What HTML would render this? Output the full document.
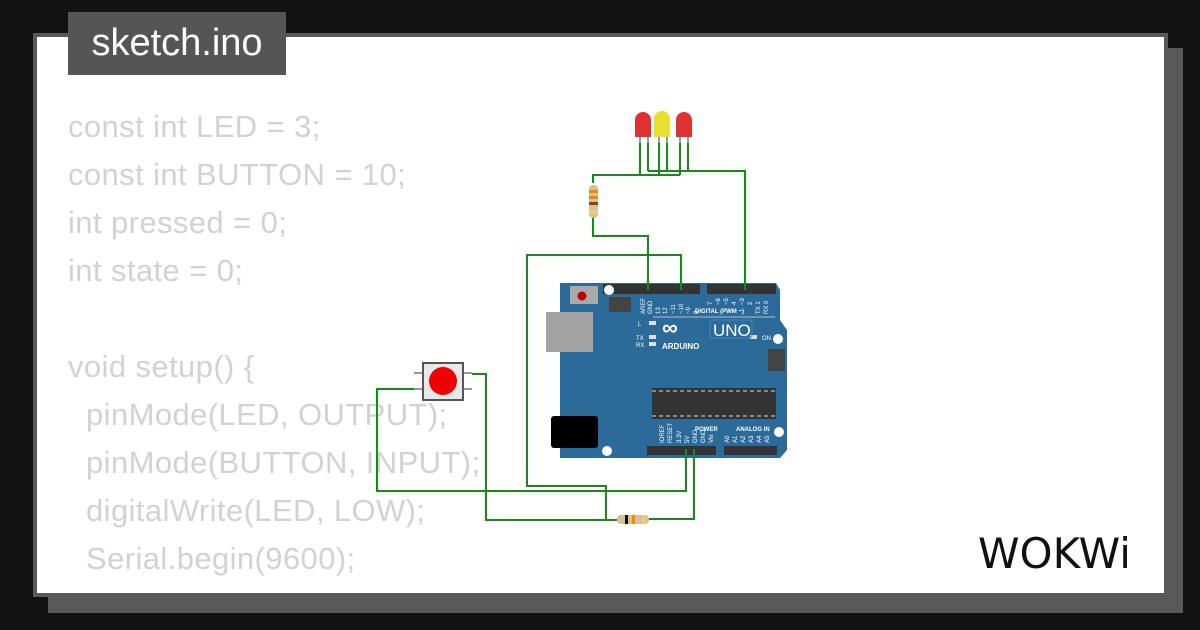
<!DOCTYPE html>
<html><head><meta charset="utf-8"><style>
html,body{margin:0;padding:0;background:#121212;width:1200px;height:630px;overflow:hidden;position:relative;font-family:"Liberation Sans",sans-serif}
.sh{position:absolute;left:48px;top:48px;width:1135px;height:565px;background:#595959}
.card{position:absolute;left:33px;top:33px;width:1127px;height:556px;background:#fff;border:4px solid #595959;overflow:hidden}
.code{position:absolute;left:31px;top:66px;color:#d2d2d2;font-size:31px;letter-spacing:0.4px;line-height:48px;white-space:pre;font-family:"Liberation Sans",sans-serif}
.lbl{position:absolute;left:68px;top:12px;width:218px;height:63px;background:#555;color:#fff;font-size:38px;line-height:63px;text-align:center}
svg{position:absolute;left:0;top:0}
</style></head><body>
<div class="sh"></div>
<div class="card"><div class="code">const int LED = 3;
const int BUTTON = 10;
int pressed = 0;
int state = 0;

void setup() {
  pinMode(LED, OUTPUT);
  pinMode(BUTTON, INPUT);
  digitalWrite(LED, LOW);
  Serial.begin(9600);
}</div></div>
<div class="lbl">sketch.ino</div>
<svg width="1200" height="630" viewBox="0 0 1200 630">
<path d="M560,283 H776 L780,290 V320 L787,330 V450 L780,458 H560 Z" fill="#2b6a99"/>
<rect x="546" y="312" width="47" height="40" fill="#a3a3a3"/>
<rect x="551" y="416" width="47" height="32" rx="3" fill="#000"/>
<rect x="570" y="286" width="28" height="18" fill="#a9a9a9"/>
<circle cx="582" cy="296" r="4.5" fill="#b00"/>
<g fill="#444"><rect x="609" y="297" width="22" height="15"/><rect x="768" y="349" width="17" height="22"/></g>
<rect x="603" y="284" width="97" height="10" fill="#333"/>
<rect x="707" y="284" width="69" height="10" fill="#333"/>
<rect x="647" y="446" width="69" height="9" fill="#333"/>
<rect x="724" y="446" width="53" height="9" fill="#333"/>
<rect x="652" y="388" width="124" height="31" fill="#333"/>
<line x1="652" y1="391" x2="776" y2="391" stroke="#ddd" stroke-dasharray="4,3"/>
<line x1="652" y1="416" x2="776" y2="416" stroke="#ddd" stroke-dasharray="4,3"/>
<g fill="#fff"><circle cx="609" cy="290" r="5"/><circle cx="778" cy="339" r="5"/><circle cx="779" cy="432" r="5"/><circle cx="607" cy="451" r="5"/></g>
<line x1="653" y1="317" x2="775" y2="317" stroke="#ddd" stroke-width="0.8"/>
<g font-size="6" fill="#fff" font-family="Liberation Sans">
<text x="695" y="313" font-weight="bold">DIGITAL (PWM ~)</text>
<text x="638" y="326">L</text><text x="636" y="340">TX</text><text x="636" y="347">RX</text>
<text x="762" y="340">ON</text>
<text x="695" y="431" font-weight="bold">POWER</text><text x="736" y="431" font-weight="bold">ANALOG IN</text>
</g>
<g fill="#ddd"><rect x="649" y="321" width="7" height="4"/><rect x="649" y="335" width="7" height="4"/><rect x="649" y="342" width="7" height="4"/><rect x="750" y="335" width="7" height="4"/></g>
<text x="662" y="335" font-size="22" fill="#fff" font-weight="bold">∞</text>
<rect x="710" y="320" width="42" height="18" rx="3" fill="none" stroke="#4d86b5"/>
<text x="713" y="336" font-size="17" fill="#fff">UNO</text>
<text x="662" y="349" font-size="8" fill="#fff" font-weight="bold">ARDUINO</text>
<g font-size="6" fill="#fff">
<text transform="translate(645,314) rotate(-90)">AREF</text><text transform="translate(652,314) rotate(-90)">GND</text>
<text transform="translate(660,314) rotate(-90)">13</text><text transform="translate(667,314) rotate(-90)">12</text>
<text transform="translate(675,314) rotate(-90)">~11</text><text transform="translate(683,314) rotate(-90)">~10</text>
<text transform="translate(690,314) rotate(-90)">~9</text><text transform="translate(698,314) rotate(-90)">8</text>
<text transform="translate(712,305) rotate(-90)">7</text><text transform="translate(720,305) rotate(-90)">~6</text>
<text transform="translate(728,305) rotate(-90)">~5</text><text transform="translate(736,305) rotate(-90)">4</text>
<text transform="translate(744,305) rotate(-90)">~3</text><text transform="translate(752,305) rotate(-90)">2</text>
<text transform="translate(760,314) rotate(-90)">TX 1</text><text transform="translate(768,314) rotate(-90)">RX 0</text>
<text transform="translate(664,443) rotate(-90)">IOREF</text><text transform="translate(672,443) rotate(-90)">RESET</text>
<text transform="translate(681,443) rotate(-90)">3.3V</text><text transform="translate(689,443) rotate(-90)">5V</text>
<text transform="translate(697,443) rotate(-90)">GND</text><text transform="translate(705,443) rotate(-90)">GND</text>
<text transform="translate(713,443) rotate(-90)">Vin</text>
<text transform="translate(729,443) rotate(-90)">A0</text><text transform="translate(737,443) rotate(-90)">A1</text>
<text transform="translate(745,443) rotate(-90)">A2</text><text transform="translate(753,443) rotate(-90)">A3</text>
<text transform="translate(761,443) rotate(-90)">A4</text><text transform="translate(769,443) rotate(-90)">A5</text>
</g>
<g fill="none" stroke="#178a17" stroke-width="2">
<path d="M640,140 V175 M659,140 V175 M680,140 V175 M593,183 V175 H680"/>
<path d="M648,140 V171 M667,140 V171 M688,140 V171 M648,171 H745 V290"/>
<path d="M593,218 V236 H648 V290"/>
<path d="M681,290 V255 H527 V486 H606 V520 H486 V374 H472"/>
<path d="M414,389 H377 V491 H686 V449"/>
<path d="M645,519 H694 V449"/>
<path d="M606,520 H617"/>
</g>
<g stroke="#999" stroke-width="2"><path d="M640,135V143M648,135V143M659,135V143M667,135V143M680,135V143M688,135V143"/></g>
<path d="M635,137 V120 a8,8 0 0 1 16,0 V137 Z" fill="#e03030"/>
<path d="M654,137 V119 a8,8 0 0 1 16,0 V137 Z" fill="#e6e030"/>
<path d="M676,137 V120 a8,8 0 0 1 16,0 V137 Z" fill="#e03030"/>
<rect x="589" y="185" width="9" height="33" rx="4" fill="#d8bf9c"/>
<g fill="#f08a00"><rect x="589" y="190" width="9" height="3"/><rect x="589" y="196" width="9" height="3"/></g>
<rect x="589" y="202" width="9" height="3" fill="#8b4513"/><rect x="589" y="211" width="9" height="3" fill="#e8d070"/>
<rect x="617" y="515" width="32" height="9" rx="4" fill="#d8bf9c"/>
<rect x="625" y="515" width="3" height="9" fill="#111"/><rect x="632" y="515" width="3" height="9" fill="#f08a00"/><rect x="642" y="515" width="3" height="9" fill="#e8d070"/>
<g stroke="#999" stroke-width="2"><path d="M414,373H423M414,389H423M463,373H472M463,389H472"/></g>
<rect x="423" y="363" width="40" height="37" fill="#e8e8e8" stroke="#555" stroke-width="2"/>
<circle cx="443" cy="381" r="14" fill="#e00"/>
<text x="978" y="568" font-size="42" fill="#111" font-family="DejaVu Sans" letter-spacing="0">WOKWi</text>
</svg>
</body></html>
